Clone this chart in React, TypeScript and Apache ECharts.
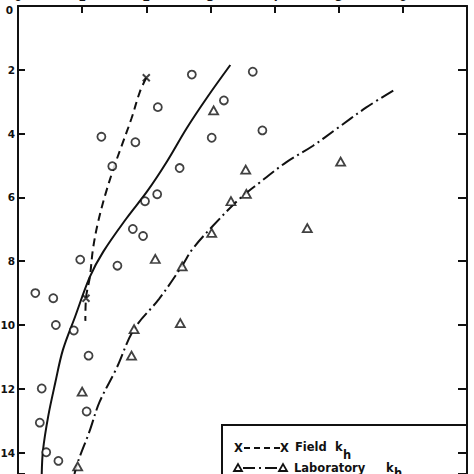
import React, { useEffect, useRef } from "react";
import * as echarts from "echarts";

// x = horizontal value, y = depth (inverted axis)
const circlePoints: [number, number][] = [
  [2.71, 2.15], [3.66, 2.06], [2.18, 3.17], [3.21, 2.96], [1.30, 4.10],
  [1.83, 4.27], [3.02, 4.13], [3.81, 3.90], [1.47, 5.02], [2.52, 5.08],
  [2.17, 5.90], [1.98, 6.12], [1.79, 6.99], [1.95, 7.21], [0.97, 7.95],
  [1.55, 8.14], [0.27, 9.00], [0.55, 9.16], [0.59, 10.0], [0.87, 10.17],
  [1.10, 10.96], [0.37, 11.99], [1.07, 12.71], [0.34, 13.06], [0.44, 13.99],
  [0.63, 14.26],
];

const trianglePoints: [number, number][] = [
  [3.05, 3.27], [3.55, 5.13], [5.03, 4.88], [3.56, 5.89], [3.32, 6.12],
  [3.02, 7.11], [4.51, 6.96], [2.56, 8.16], [2.14, 7.93], [2.53, 9.94],
  [1.81, 10.13], [1.77, 10.96], [1.00, 12.09], [0.93, 14.43],
];

const fieldPoints: [number, number][] = [[2.0, 2.25], [1.06, 9.16]];

const solidCurve: [number, number][] = [
  [3.31, 1.85], [2.94, 2.89], [2.63, 3.83], [2.32, 4.88], [2.01, 5.82],
  [1.69, 6.66], [1.33, 7.70], [1.12, 8.49], [0.89, 9.74], [0.70, 10.78],
  [0.58, 11.82], [0.47, 12.87], [0.39, 13.92], [0.37, 14.67],
];

const fieldCurve: [number, number][] = [
  [2.0, 2.25], [1.90, 2.69], [1.77, 3.52], [1.62, 4.36], [1.49, 5.09],
  [1.36, 5.92], [1.25, 6.76], [1.17, 7.6], [1.12, 8.5], [1.06, 9.16],
  [1.05, 9.87],
];

const labCurve: [number, number][] = [
  [5.85, 2.65], [5.43, 3.18], [4.96, 3.86], [4.60, 4.38], [4.18, 4.90],
  [3.77, 5.53], [3.45, 6.05], [3.04, 6.89], [2.72, 7.62], [2.56, 8.14],
  [2.20, 9.18], [1.81, 10.13], [1.53, 11.38], [1.27, 12.42], [1.11, 13.36],
  [0.95, 14.2], [0.88, 14.67],
];

const xTicks = [0, 1, 2, 3, 4, 5, 6];
const yTicks = [0, 2, 4, 6, 8, 10, 12, 14];

const FONT = "DejaVu Sans";

export default function App() {
  const ref = useRef<HTMLDivElement>(null);
  useEffect(() => {
    if (!ref.current) return;
    const chart = echarts.init(ref.current, null, { renderer: "svg" });
    const crossPath = "path://M0,0L10,10M10,0L0,10";
    const legendTextStyle = {
      fill: "#111",
      fontFamily: FONT,
      fontWeight: "bold" as const,
      fontSize: 11.5,
    };
    const curve = (data: [number, number][], type: any) => ({
      type: "line",
      data,
      smooth: 0.35,
      showSymbol: false,
      symbol: "none",
      lineStyle: { color: "#111", width: 2, type },
    });
    chart.setOption({
      animation: false,
      backgroundColor: "#fff",
      grid: { left: 18, right: 7, top: 6, bottom: 0, containLabel: false, outerBoundsMode: "none" },
      xAxis: {
        type: "value",
        position: "top",
        min: 0,
        max: 7,
        interval: 1,
        axisLine: { show: true, lineStyle: { color: "#111", width: 2 } },
        axisTick: { show: true, inside: true, length: 7, lineStyle: { color: "#111", width: 2 } },
        axisLabel: {
          margin: 3,
          color: "#111",
          fontFamily: FONT,
          fontWeight: "bold",
          fontSize: 11,
          formatter: (v: number) => (xTicks.includes(v) ? String(v) : ""),
        },
        splitLine: { show: false },
      },
      yAxis: [
        {
          type: "value",
          inverse: true,
          min: 0,
          max: 14.67,
          interval: 2,
          position: "left",
          axisLine: { show: true, lineStyle: { color: "#111", width: 2 } },
          axisTick: { show: true, inside: true, length: 7, lineStyle: { color: "#111", width: 2 } },
          axisLabel: {
            margin: 3,
            color: "#111",
            fontFamily: FONT,
            fontWeight: "bold",
            fontSize: 10.5,
            formatter: (v: number) =>
              v === 0 ? "{z|0}" : yTicks.includes(v) ? String(v) : "",
            rich: {
              z: {
                fontFamily: FONT,
                fontWeight: "bold",
                fontSize: 10.5,
                color: "#111",
                padding: [8, 2, 0, 0],
              },
            },
          },
          splitLine: { show: false },
        },
        {
          type: "value",
          inverse: true,
          min: 0,
          max: 14.67,
          interval: 2,
          position: "right",
          axisLine: { show: true, lineStyle: { color: "#111", width: 2 } },
          axisTick: { show: true, inside: true, length: 9, lineStyle: { color: "#111", width: 2 } },
          axisLabel: { show: false },
          splitLine: { show: false },
        },
      ],
      series: [
        curve(solidCurve, "solid"),
        curve(fieldCurve, [8, 5]),
        curve(labCurve, [14, 4, 2, 4]),
        {
          type: "scatter",
          data: circlePoints,
          symbol: "circle",
          symbolSize: 8,
          itemStyle: { color: "#fff", borderColor: "#111", borderWidth: 1.8 },
          z: 5,
        },
        {
          type: "scatter",
          data: trianglePoints,
          symbol: "triangle",
          symbolSize: [9, 8],
          itemStyle: { color: "#fff", borderColor: "#111", borderWidth: 1.8 },
          z: 5,
        },
        {
          type: "scatter",
          data: fieldPoints,
          symbol: crossPath,
          symbolSize: 7,
          itemStyle: { color: "none", borderColor: "#111", borderWidth: 2 },
          z: 5,
        },
      ],
      graphic: [
        {
          type: "group",
          z: 100,
          children: [
            {
              type: "rect",
              shape: { x: 222, y: 425, width: 245, height: 60 },
              style: { fill: "#fff", stroke: "#111", lineWidth: 2 },
            },
            {
              type: "line",
              shape: { x1: 244, y1: 448, x2: 280, y2: 448 },
              style: { stroke: "#111", lineWidth: 2, lineDash: [6, 4] },
            },
            { type: "text", x: 234, y: 442, style: { ...legendTextStyle, text: "X" } },
            { type: "text", x: 280, y: 442, style: { ...legendTextStyle, text: "X" } },
            { type: "text", x: 295, y: 441, style: { ...legendTextStyle, text: "Field" } },
            { type: "text", x: 335, y: 441, style: { ...legendTextStyle, text: "k" } },
            { type: "text", x: 343, y: 449, style: { ...legendTextStyle, text: "h" } },
            {
              type: "line",
              shape: { x1: 243, y1: 468, x2: 281, y2: 468 },
              style: { stroke: "#111", lineWidth: 2, lineDash: [12, 4, 2, 4] },
            },
            {
              type: "polygon",
              shape: { points: [[234, 471], [242, 471], [238, 464]] },
              style: { fill: "#fff", stroke: "#111", lineWidth: 1.8 },
            },
            {
              type: "polygon",
              shape: { points: [[279, 471], [287, 471], [283, 464]] },
              style: { fill: "#fff", stroke: "#111", lineWidth: 1.8 },
            },
            { type: "text", x: 294, y: 462, style: { ...legendTextStyle, text: "Laboratory" } },
            { type: "text", x: 386, y: 462, style: { ...legendTextStyle, text: "k" } },
            { type: "text", x: 394, y: 467, style: { ...legendTextStyle, text: "h" } },
          ],
        },
      ],
    });
    return () => chart.dispose();
  }, []);
  return (
    <div style={{ position: "fixed", left: 0, top: 0, width: 474, height: 474 }}>
      <div ref={ref} style={{ width: 474, height: 474 }} />
    </div>
  );
}
